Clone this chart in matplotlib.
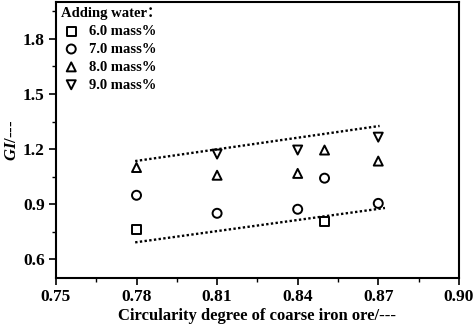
import matplotlib.pyplot as plt
import numpy as np

plt.rcParams['font.family'] = ['Liberation Serif', 'Noto Sans CJK SC', 'DejaVu Serif']
plt.rcParams['font.weight'] = 'bold'
plt.rcParams['mathtext.fontset'] = 'custom'
plt.rcParams['mathtext.it'] = 'Liberation Serif:italic:bold'
plt.rcParams['mathtext.rm'] = 'Liberation Serif:bold'

# Data
x_60 = [0.78, 0.85]
y_60 = [0.764, 0.807]
x_70 = [0.78, 0.81, 0.84, 0.85, 0.87]
y_70 = [0.949, 0.851, 0.873, 1.042, 0.905]
x_80 = [0.78, 0.81, 0.84, 0.85, 0.87]
y_80 = [1.100, 1.058, 1.068, 1.195, 1.135]
x_90 = [0.81, 0.84, 0.87]
y_90 = [1.173, 1.195, 1.265]

# Dotted boundary lines
upper_x = [0.7795, 0.8705]
upper_y = [1.135, 1.326]
lower_x = [0.7795, 0.8725]
lower_y = [0.693, 0.880]

fig = plt.figure(figsize=(4.74, 3.3), dpi=100)
ax = fig.add_axes([0.118, 0.158, 0.85, 0.836])

mk = dict(facecolor='none', edgecolor='black', linewidths=1.4, s=42)
ax.scatter(x_60, y_60, marker='s', label='6.0 mass%', **mk)
ax.scatter(x_70, y_70, marker='o', label='7.0 mass%', **mk)
ax.scatter(x_80, y_80, marker='^', label='8.0 mass%', **mk)
ax.scatter(x_90, y_90, marker='v', label='9.0 mass%', **mk)

ax.plot(upper_x, upper_y, color='black', linestyle=(0, (1, 1.0)), linewidth=1.7)
ax.plot(lower_x, lower_y, color='black', linestyle=(0, (1, 1.0)), linewidth=1.7)

ax.set_xlim(0.75, 0.90)
ax.set_ylim(0.5, 2.0)
ax.set_xticks(np.arange(0.75, 0.901, 0.03))
ax.set_xticks(np.arange(0.765, 0.90, 0.03), minor=True)
ax.set_yticks([0.6, 0.9, 1.2, 1.5, 1.8])
ax.set_yticks([0.75, 1.05, 1.35, 1.65, 1.95], minor=True)
ax.xaxis.set_major_formatter(plt.FormatStrFormatter('%.2f'))
ax.yaxis.set_major_formatter(plt.FormatStrFormatter('%.1f'))
ax.tick_params(which='major', length=5, width=1.2, labelsize=12.5, direction='out', pad=3)
ax.tick_params(which='minor', length=3, width=1.0, direction='out')
for sp in ax.spines.values():
    sp.set_linewidth(1.5)

ax.set_xlabel('Circularity degree of coarse iron ore/---', fontsize=12, fontweight='bold', labelpad=2)
ax.set_ylabel(r'$\mathit{GI}$/---', fontsize=12, fontweight='bold', labelpad=2)

leg = ax.legend(title='Adding water\uff1a', loc='upper left', frameon=False,
                fontsize=10.5, title_fontsize=10.5, handletextpad=0.5,
                borderaxespad=0.15, borderpad=0.2, labelspacing=0.32, handlelength=1.4)
leg._legend_box.align = 'left'
leg.get_title().set_fontweight('bold')

fig.savefig('out.png', dpi=100)
